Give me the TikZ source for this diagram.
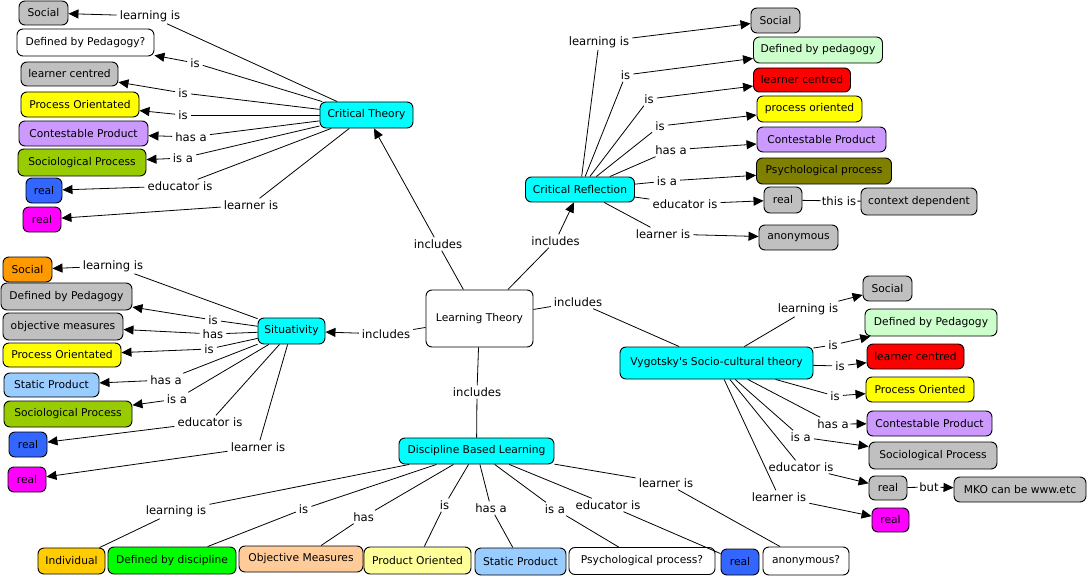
\documentclass[tikz,border=0pt]{standalone}
\usepackage{fontspec}
\usetikzlibrary{arrows.meta}
\newfontfamily\vfont{DejaVu Sans}
\newcommand\cmfont{\vfont\fontsize{10.7}{12}\selectfont}
\newcommand\lbfont{\vfont\fontsize{11.6}{13}\selectfont}
\definecolor{cyanC}{HTML}{00FFFF}
\definecolor{greyC}{HTML}{C0C0C0}
\definecolor{yellowC}{HTML}{FFFF00}
\definecolor{purpleC}{HTML}{CC99FF}
\definecolor{greenC}{HTML}{99CC00}
\definecolor{blueC}{HTML}{3366FF}
\definecolor{magentaC}{HTML}{FF00FF}
\definecolor{orangeC}{HTML}{FF9900}
\definecolor{lblueC}{HTML}{99CCFF}
\definecolor{lgreenC}{HTML}{CCFFCC}
\definecolor{redC}{HTML}{FF0000}
\definecolor{oliveC}{HTML}{808000}
\definecolor{indC}{HTML}{FFCC00}
\definecolor{discC}{HTML}{00FF00}
\definecolor{objC}{HTML}{FFCC99}
\definecolor{prodC}{HTML}{FFFF99}
\tikzset{
  concept/.style={draw=black, line width=0.9pt, rounded corners=6pt, minimum height=25pt, inner xsep=3pt, inner ysep=2pt, font=\cmfont, fill=white},
  lab/.style={font=\lbfont, inner xsep=3pt, inner ysep=2pt},
  arr/.style={-{Triangle[length=10pt,width=9pt]}, line width=0.8pt},
  ln/.style={line width=0.8pt},
}
\begin{document}
\begin{tikzpicture}[x=1pt,y=-1pt]
\useasboundingbox (0,0) rectangle (1088,578);

% ---------- Learning Theory ----------
\node[concept, minimum width=107pt, minimum height=57pt] (lt) at (479.5,318.5) {Learning Theory};
\node[lab] (ilct) at (438,244) {includes};
\node[lab] (ilcr) at (555.5,241) {includes};
\node[lab] (ilsi) at (386,334) {includes};
\node[lab] (ilvy) at (578,302) {includes};
\node[lab] (ildb) at (477,392) {includes};

% ---------- Critical Theory ----------
\node[concept, fill=cyanC, minimum width=93pt, minimum height=26pt] (ct) at (366.5,115) {Critical Theory};
\node[concept, fill=greyC, minimum width=49pt, minimum height=24pt] (cta) at (43.5,13) {Social};
\node[concept, fill=white, minimum width=137pt, minimum height=27pt] (ctb) at (85.5,42.5) {Defined by Pedagogy?};
\node[concept, fill=greyC, minimum width=97pt, minimum height=24pt] (ctc) at (69.5,74) {learner centred};
\node[concept, fill=yellowC, minimum width=118pt] (ctd) at (80,104.5) {Process Orientated};
\node[concept, fill=purpleC, minimum width=129pt] (cte) at (83.5,133.5) {Contestable Product};
\node[concept, fill=greenC, minimum width=128pt, minimum height=27pt] (ctf) at (82,162.5) {Sociological Process};
\node[concept, fill=blueC, minimum width=36pt] (ctg) at (44,190.5) {real};
\node[concept, fill=magentaC, minimum width=38pt] (cth) at (42,219.5) {real};
\node[lab] (lcta) at (150,16) {learning is};
\node[lab] (lctb) at (195,63) {is};
\node[lab] (lctc) at (183,93) {is};
\node[lab] (lctd) at (183,115) {is};
\node[lab] (lcte) at (191,137) {has a};
\node[lab] (lctf) at (183,158) {is a};
\node[lab] (lctg) at (180,186) {educator is};
\node[lab] (lcth) at (251,205) {learner is};

% ---------- Critical Reflection ----------
\node[concept, fill=cyanC, minimum width=109pt] (cr) at (580,189.5) {Critical Reflection};
\node[concept, fill=greyC, minimum width=49pt] (cra) at (775.5,20.5) {Social};
\node[concept, fill=lgreenC, minimum width=129pt, minimum height=26pt] (crb) at (818,50) {Defined by pedagogy};
\node[concept, fill=redC, minimum width=97pt, minimum height=24pt] (crc) at (802,80) {learner centred};
\node[concept, fill=yellowC, minimum width=105pt, minimum height=26pt] (crd) at (809.5,109) {process oriented};
\node[concept, fill=purpleC, minimum width=129pt] (cre) at (821.5,139.5) {Contestable Product};
\node[concept, fill=oliveC, minimum width=135pt, minimum height=26pt] (crf) at (824,171) {Psychological process};
\node[concept, fill=greyC, minimum width=38pt, minimum height=26pt] (crg) at (783,200) {real};
\node[concept, fill=greyC, minimum width=116pt, minimum height=27pt] (crh) at (919,201.5) {context dependent};
\node[concept, fill=greyC, minimum width=79pt] (cri) at (798.5,237.5) {anonymous};
\node[lab] (lcra) at (599,42) {learning is};
\node[lab] (lcrb) at (625.6,75) {is};
\node[lab] (lcrc) at (649,99) {is};
\node[lab] (lcrd) at (660,126) {is};
\node[lab] (lcre) at (671,150) {has a};
\node[lab] (lcrf) at (667,181) {is a};
\node[lab] (lcrg) at (685,204) {educator is};
\node[lab] (lcri) at (663,234) {learner is};
\node[lab, inner xsep=1pt] (lcrh) at (839,201) {this is};

% ---------- Situativity ----------
\node[concept, fill=cyanC, minimum width=67pt, minimum height=26pt] (si) at (291.5,331) {Situativity};
\node[concept, fill=orangeC, minimum width=49pt] (sa) at (27.5,269.5) {Social};
\node[concept, fill=greyC, minimum width=131pt, minimum height=27pt] (sb) at (66.5,296.5) {Defined by Pedagogy};
\node[concept, fill=greyC, minimum width=120pt, minimum height=27pt] (sc) at (63,326.5) {objective measures};
\node[concept, fill=yellowC, minimum width=118pt, minimum height=24pt] (sd) at (62,355) {Process Orientated};
\node[concept, fill=lblueC, minimum width=95pt, minimum height=24pt] (se) at (51.5,385) {Static Product};
\node[concept, fill=greenC, minimum width=128pt, minimum height=26pt] (sf) at (68,414) {Sociological Process};
\node[concept, fill=blueC, minimum width=38pt] (sg) at (28,444.5) {real};
\node[concept, fill=magentaC, minimum width=38pt] (sh) at (27,479.5) {real};
\node[lab] (lsa) at (113,266) {learning is};
\node[lab, inner ysep=0.5pt] (lsb) at (213,320) {is};
\node[lab, inner ysep=0.5pt] (lsc) at (213,334) {has};
\node[lab, inner ysep=0.5pt] (lsd) at (209,349) {is};
\node[lab] (lse) at (166,380) {has a};
\node[lab] (lsf) at (177,399) {is a};
\node[lab] (lsg) at (210,422) {educator is};
\node[lab] (lsh) at (258,447) {learner is};

% ---------- Vygotsky ----------
\node[concept, fill=cyanC, minimum width=193pt, minimum height=32pt] (vy) at (716.5,363) {Vygotsky's Socio-cultural theory};
\node[concept, fill=greyC, minimum width=49pt] (va) at (887.5,288.5) {Social};
\node[concept, fill=lgreenC, minimum width=132pt, minimum height=27pt] (vb) at (931,322.5) {Defined by Pedagogy};
\node[concept, fill=redC, minimum width=97pt] (vc) at (915.5,356.5) {learner centred};
\node[concept, fill=yellowC, minimum width=108pt] (vd) at (920,389.5) {Process Oriented};
\node[concept, fill=purpleC, minimum width=125pt] (ve) at (929.5,423.5) {Contestable Product};
\node[concept, fill=greyC, minimum width=128pt, minimum height=27pt] (vf) at (933,455.5) {Sociological Process};
\node[concept, fill=greyC, minimum width=38pt, minimum height=24pt] (vg) at (888,488) {real};
\node[concept, fill=greyC, minimum width=132pt] (vh) at (1020,489.5) {MKO can be www.etc};
\node[concept, fill=magentaC, minimum width=37pt, minimum height=24pt] (vi) at (890.5,520) {real};
\node[lab] (lva) at (808,309) {learning is};
\node[lab] (lvb) at (833,345) {is};
\node[lab] (lvc) at (840,366) {is};
\node[lab] (lvd) at (835,396) {is};
\node[lab, inner xsep=1.5pt] (lve) at (833,424) {has a};
\node[lab] (lvf) at (800.7,437) {is a};
\node[lab] (lvg) at (801,467) {educator is};
\node[lab] (lvi) at (779,497) {learner is};
\node[lab, inner xsep=1.5pt] (lvh) at (929,487) {but};

% ---------- Discipline Based Learning ----------
\node[concept, fill=cyanC, minimum width=155pt, minimum height=26pt] (db) at (476.5,451) {Discipline Based Learning};
\node[concept, fill=indC, minimum width=67pt, minimum height=26pt] (da) at (71.5,561) {Individual};
\node[concept, fill=discC, minimum width=128pt, minimum height=27pt] (dbb) at (172,560.5) {Defined by discipline};
\node[concept, fill=objC, minimum width=124pt, minimum height=26pt] (dc) at (301,559) {Objective Measures};
\node[concept, fill=prodC, minimum width=107pt, minimum height=27pt] (dd) at (417.5,560.5) {Product Oriented};
\node[concept, fill=lblueC, minimum width=91pt, minimum height=27pt] (de) at (520.5,561.5) {Static Product};
\node[concept, fill=white, minimum width=146pt, minimum height=27pt] (df) at (642,561) {Psychological process?};
\node[concept, fill=blueC, minimum width=38pt, minimum height=26pt] (dg) at (740,562) {real};
\node[concept, fill=white, minimum width=86pt, minimum height=28pt] (dh) at (806,561) {anonymous?};
\node[lab] (lda) at (176,511) {learning is};
\node[lab] (ldb) at (303.6,509) {is};
\node[lab] (ldc) at (363.6,517) {has};
\node[lab] (ldd) at (444.6,505) {is};
\node[lab] (lde) at (491,508) {has a};
\node[lab] (ldf) at (555,509) {is a};
\node[lab] (ldg) at (608,505) {educator is};
\node[lab] (ldh) at (666,483) {learner is};

% ---------- connectors ----------
% Learning Theory
\draw[ln] (lt) -- (ilct); \draw[arr] (ilct) -- (ct);
\draw[ln] (lt) -- (ilcr); \draw[arr] (ilcr) -- (cr);
\draw[ln] (lt) -- (ilsi); \draw[arr] (ilsi) -- (si);
\draw[ln] (lt) -- (ilvy); \draw[ln] (ilvy) -- (vy);
\draw[ln] (lt) -- (ildb); \draw[ln] (ildb) -- (db);

% Critical Theory
\foreach \l/\t in {lcta/cta,lctb/ctb,lctc/ctc,lctd/ctd,lcte/cte,lctf/ctf,lctg/ctg,lcth/cth}{
  \draw[ln] (ct) -- (\l); \draw[arr] (\l) -- (\t);
}
% Critical Reflection
\foreach \l/\t in {lcra/cra,lcrb/crb,lcrc/crc,lcrd/crd,lcre/cre,lcrf/crf,lcrg/crg,lcri/cri}{
  \draw[ln] (cr) -- (\l); \draw[arr] (\l) -- (\t);
}
\draw[ln] (crg) -- (lcrh); \draw[ln] (lcrh) -- (crh);
% Situativity
\foreach \l/\t in {lsa/sa,lsb/sb,lsc/sc,lsd/sd,lse/se,lsf/sf,lsg/sg,lsh/sh}{
  \draw[ln] (si) -- (\l); \draw[arr] (\l) -- (\t);
}
% Vygotsky
\foreach \l/\t in {lva/va,lvb/vb,lvc/vc,lvd/vd,lve/ve,lvf/vf,lvg/vg,lvi/vi}{
  \draw[ln] (vy) -- (\l); \draw[arr] (\l) -- (\t);
}
\draw[ln] (vg) -- (lvh); \draw[arr] (lvh) -- (vh);
% Discipline Based Learning
\foreach \l/\t in {lda/da,ldb/dbb,ldc/dc,ldd/dd,lde/de,ldf/df,ldg/dg,ldh/dh}{
  \draw[ln] (db) -- (\l); \draw[ln] (\l) -- (\t);
}
\end{tikzpicture}
\end{document}
